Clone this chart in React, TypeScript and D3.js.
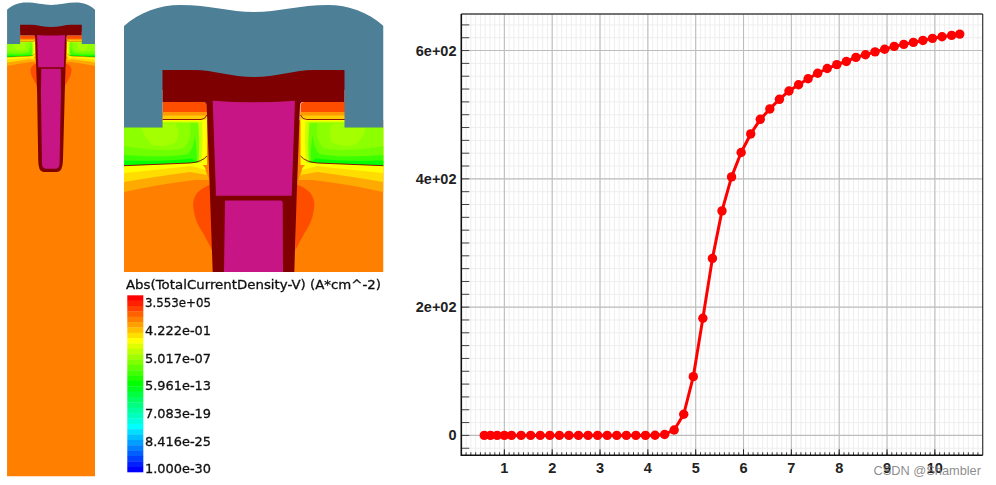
import React from "react";
import * as d3 from "d3";

// ---- Curve data (x, y)
const voltages = [0.58,0.71,0.85,1.0,1.15,1.35,1.55,1.75,1.95,2.15,2.35,2.55,2.75,2.95,3.15,3.35,3.55,3.75,3.95,4.15,4.35,4.55,4.75,4.95,5.15,5.35,5.55,5.75,5.95,6.15,6.35,6.55,6.75,6.95,7.15,7.35,7.55,7.75,7.95,8.15,8.35,8.55,8.75,8.95,9.15,9.35,9.55,9.75,9.95,10.15,10.35,10.52];
const currents = [0,0,0,0,0,0,0,0,0,0,0,0,0,0,0,0,0,0,0,0.3,1.5,8.5,33,91.6,182.7,276,350,403,441,470,492.8,509,524,537,546.7,556,564.6,572,578,583,589.3,593.4,598,602,606.5,609.6,612.7,615.8,619,621.5,623.6,625.7];
const xTickValues = [1,2,3,4,5,6,7,8,9,10];
const yMajorValues = [0,200,400,600];
const yTickLabels = ["0","2e+02","4e+02","6e+02"];

// ---- Colour legend
const legendTitle = "Abs(TotalCurrentDensity-V) (A*cm^-2)";
const legendLabels = ["3.553e+05","4.222e-01","5.017e-07","5.961e-13","7.083e-19","8.416e-25","1.000e-30"];
const legendAnchors = ["#ff0000","#ffff00","#00ff00","#00ffff","#0000ff"];
const legendBandCount = 33;

// ---- Device illustration colours
const C = { nitride:"#4d7f96", metal:"#7f0000", poly:"#c71585", base:"#ff7f00", hot:"#ff4d00" };

const xScale = d3.scaleLinear().domain([0.1, 11]).range([461.3, 982.7]);
const yScale = d3.scaleLinear().domain([-31, 657]).range([455.3, 14]);
const xMinor = d3.range(2, 110).map(i => i / 10);
const yMinor = d3.range(-20, 650, 20);

function Half() {
  // left half of the silicon contour layers; mirrored for the right half
  return (
    <g>
      <path d="M162.5 102H203Q207 102 207 106V122H162.5Z" fill={C.hot} />
      <path d="M162.5 112H207V122H162.5Z" fill="#ff9900" />
      <path d="M162.5 115.5H207V122H162.5Z" fill="#ffcc00" />
      <path d="M124 127H162.5V119.5H207V165L124 167Z" fill="#ffff00" />
      <path d="M124 127H162.5V121.5H202Q203.5 150 201 163L124 166Z" fill="#ccff00" />
      <path d="M124 127H162.5V122.5H198Q200 150 198 163L124 166Z" fill="#8cff00" />
      <path d="M142 128H163V123.5H175Q181 132 176 142Q166 148 152 145Q144 138 142 128Z" fill="#a4ff00" />
      <path d="M124 146Q165 153 184 148Q193 138 190 123H198Q200 150 198 163L124 166Z" fill="#70ff00" />
      <path d="M124 155Q170 158 188 154Q194 148 195 135Q197 150 197 163L124 166Z" fill="#3cff00" />
      <path d="M124 160.5Q165 162 192 158.5L197 163L124 166Z" fill="#00ff00" />
      <path d="M124 166L190 163Q205 161 209 180H195Q160 184 124 192Z" fill="#ffaa00" />
      <path d="M124 166L190 163Q204 161 207 175L190 172Q160 176 124 182Z" fill="#ffdd00" />
      <path d="M124 166L190 163Q203 161 206 170L190 166Q155 170 124 173Z" fill="#ffff00" />
      <path d="M162.5 119.5H201Q205 119.5 207 115" stroke={C.metal} strokeWidth={0.9} fill="none" />
      <path d="M124 165.7L190 163Q202 162 207 156" stroke={C.metal} strokeWidth={0.9} fill="none" />
      <path d="M212 184Q203 187 197 193Q192 200 193.5 209Q195 222 203 233L212 250Z" fill={C.hot} />
    </g>
  );
}

function Device({ id, transform, x, y, w, h }: { id: string; transform?: string; x: number; y: number; w: number; h: number }) {
  return (
    <g transform={transform}>
      <clipPath id={id}><rect x={x} y={y} width={w} height={h} /></clipPath>
      <g clipPath={`url(#${id})`}>
        <rect x={124} y={120} width={259.5} height={1300} fill={C.base} />
        <Half />
        <g transform="translate(507.5,0) scale(-1,1)"><Half /></g>
        <path d="M124 26C140 12 160 5 180 5C210 5 230 12 254 12C278 12 300 5 328 5C348 5 368 12 383.5 26V127.5H344.5V90H162.5V127.5H124Z" fill={C.nitride} />
        <path d="M162.5 70H195C212 70 232 77 254 77C276 77 296 70 313 70H344.5V102H303Q300 102 300 106L296.7 195L294.3 272L289 470Q288 505 272 505H232Q216 505 216 470L212.7 272L210 195L206.7 106Q206.7 102 203 102H162.5Z" fill={C.metal} />
        <path d="M212.7 100.7Q254 104 295 100.7L291.7 195.7L216 195.7Z" fill={C.poly} />
        <path d="M225 200.5H281Q282.5 200.5 282.7 203L283 272L279 480Q278 495 268 495H238Q228 495 227 480L224 272Z" fill={C.poly} />
      </g>
    </g>
  );
}

function Legend() {
  const ramp = d3.piecewise(d3.interpolateRgb, legendAnchors);
  const bands = d3.quantize(ramp, legendBandCount);
  const band = d3.scaleBand<number>().domain(d3.range(legendBandCount)).range([295.3, 472]);
  const labelY = d3.scalePoint<string>().domain(legendLabels).range([302.7, 468.7]);
  return (
    <g fontFamily="'DejaVu Sans', sans-serif" fill="#111" stroke="#111" strokeWidth={0.3}>
      <filter id="soft"><feGaussianBlur stdDeviation={0.25} /></filter>
      <g filter="url(#soft)">
        <text x={126} y={289} fontSize={12.5} textLength={255} lengthAdjust="spacingAndGlyphs">{legendTitle}</text>
        {legendLabels.map(l => (
          <text key={l} x={145} y={labelY(l)! + 4.5} fontSize={12.5} textLength={66} lengthAdjust="spacingAndGlyphs">{l}</text>
        ))}
      </g>
      {bands.map((c, i) => (
        <rect key={i} x={127.3} y={band(i)} width={16} height={band.bandwidth() + 0.3} fill={c} stroke="none" />
      ))}
    </g>
  );
}

function Plot() {
  const [x0, x1] = xScale.range();
  const [y0, y1] = yScale.range();
  const line = d3.line<number>().x(v => xScale(v)).y((_, i) => yScale(currents[i]));
  const font = "'Liberation Sans', Arial, sans-serif";
  return (
    <g>
      <rect x={x0} y={y1} width={x1 - x0} height={y0 - y1} fill="#fff" />
      {xMinor.map(v => <line key={v} x1={xScale(v)} x2={xScale(v)} y1={y1} y2={y0} stroke="#eeeeee" strokeWidth={1} />)}
      {yMinor.map(v => <line key={v} x1={x0} x2={x1} y1={yScale(v)} y2={yScale(v)} stroke="#eeeeee" strokeWidth={1} />)}
      {xTickValues.map(v => <line key={v} x1={xScale(v)} x2={xScale(v)} y1={y1} y2={y0} stroke="#bdbdbd" strokeWidth={1.1} />)}
      {yMajorValues.map(v => <line key={v} x1={x0} x2={x1} y1={yScale(v)} y2={yScale(v)} stroke="#bdbdbd" strokeWidth={1.1} />)}
      {xMinor.map(v => <line key={v} x1={xScale(v)} x2={xScale(v)} y1={y0 - 3} y2={y0} stroke="#222" strokeWidth={0.9} />)}
      {xTickValues.map(v => <line key={v} x1={xScale(v)} x2={xScale(v)} y1={y0 - 6} y2={y0} stroke="#222" strokeWidth={1} />)}
      {yMinor.map(v => <line key={v} x1={x0} x2={x0 + 8} y1={yScale(v)} y2={yScale(v)} stroke="#444" strokeWidth={1} />)}
      <path d={`M${x0} ${y1}H${x1}`} stroke="#444" strokeWidth={1.6} fill="none" />
      <path d={`M${x1} ${y1}V${y0}`} stroke="#333" strokeWidth={1.2} fill="none" />
      <path d={`M${x0} ${y1}V${y0}H${x1}`} stroke="#111" strokeWidth={1.6} fill="none" />
      <path d={line(voltages)!} fill="none" stroke="#ff0000" strokeWidth={3} strokeLinejoin="round" />
      {voltages.map((v, i) => <circle key={i} cx={xScale(v)} cy={yScale(currents[i])} r={4.7} fill="#ff0000" />)}
      <g fontFamily={font} fontWeight={700} fontSize={14.5} fill="#222">
        {xTickValues.map(v => <text key={v} x={xScale(v)} y={473} textAnchor="middle">{v}</text>)}
        {yMajorValues.map((v, i) => <text key={v} x={456.5} y={yScale(v) + 5} textAnchor="end">{yTickLabels[i]}</text>)}
      </g>
      <text x={981} y={475} textAnchor="end" fontFamily={font} fontSize={12.8} fill="#777" fillOpacity={0.85}>CSDN @Shambler</text>
    </g>
  );
}

export default function App() {
  return (
    <svg width={996} height={485} style={{ position: "absolute", left: 0, top: 0, background: "#fff" }}>
      <Device id="bigClip" x={124} y={0} w={259.5} h={272} />
      <Device id="smallClip" transform="translate(-35,0.9) scale(0.339)" x={124} y={0} w={259.5} h={1402} />
      <Legend />
      <Plot />
    </svg>
  );
}
